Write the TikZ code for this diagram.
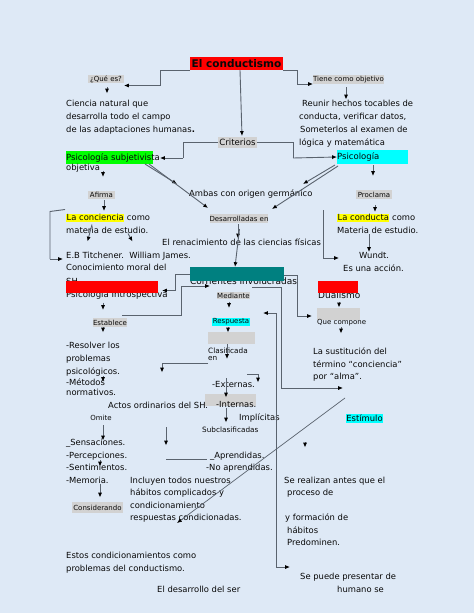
\documentclass[tikz,border=0pt]{standalone}
\usepackage{fontspec}
\setmainfont{DejaVu Sans}
\usetikzlibrary{arrows.meta}
\definecolor{bg}{RGB}{222,233,246}
\definecolor{boxgray}{RGB}{210,210,210}
\definecolor{linec}{RGB}{90,99,110}
\definecolor{txtc}{RGB}{8,8,8}
\definecolor{tealc}{RGB}{0,128,128}
\definecolor{cyanc}{RGB}{0,255,255}
\definecolor{greenc}{RGB}{0,255,0}
\definecolor{redc}{RGB}{255,0,0}
\definecolor{yellowc}{RGB}{255,255,0}
\newcommand\hlt[2]{{\setlength\fboxsep{0.5pt}\colorbox{#1}{\rule[-1.2pt]{0pt}{6.9pt}#2}}}
\tikzset{
  txt/.style={anchor=mid west, inner sep=0pt, text=txtc, font=\fontsize{8.4}{10}\selectfont},
  bigt/.style={anchor=base west, inner sep=0pt, text=txtc, font=\fontsize{9}{10}\selectfont},
  smt/.style={inner sep=0pt, text=txtc, font=\fontsize{7}{8}\selectfont},
  rbox/.style={anchor=north west, inner sep=0pt, outer sep=0pt, draw=none},
  lbl/.style={smt, fill=boxgray},
  ln/.style={draw=linec, line width=0.9pt},
  ar/.style={ln, -{Latex[length=4.8pt,width=4pt,color=black]}},
  artwo/.style={ln, {Latex[length=4.8pt,width=4pt,color=black]}-{Latex[length=4.8pt,width=4pt,color=black]}},
}
\begin{document}
\begin{tikzpicture}[x=1pt,y=-1pt]
\fill[bg] (0,0) rectangle (474,613);
\useasboundingbox (0,0) rectangle (474,613);

% ---------- boxes and labels ----------
\node[rbox, fill=redc, minimum width=93pt, minimum height=13pt, text=txtc,
      font=\bfseries\fontsize{10.5}{12}\selectfont] (title) at (190,57) {El conductismo};
\node[lbl, minimum width=36pt, minimum height=8pt] (que) at (106,79) {¿Qué es?};
\node[lbl, minimum width=71pt, minimum height=9pt] (tiene) at (348.5,79.5) {Tiene como objetivo};
\node[lbl, minimum width=39pt, minimum height=11pt, font=\fontsize{8.6}{10}\selectfont] (crit) at (237.5,142.5) {Criterios};
\node[rbox, fill=greenc, minimum width=87pt, minimum height=13pt] (gbox) at (66,151) {};
\node[rbox, fill=cyanc, minimum width=71pt, minimum height=14pt] (cbox) at (337,150) {};
\node[lbl, minimum width=27pt, minimum height=8pt] (afirma) at (101.5,194.5) {Afirma};
\node[lbl, minimum width=36pt, minimum height=9pt] (procl) at (374,194.5) {Proclama};
\node[lbl, minimum width=56pt, minimum height=9pt] (desen) at (239,218.5) {Desarrolladas en};
\node[lbl, minimum width=33pt, minimum height=7pt] (mediante) at (233.5,295.5) {Mediante};
\node[lbl, minimum width=34pt, minimum height=9pt] (estab) at (110,322.5) {Establece};
\node[smt, fill=cyanc, minimum width=38pt, minimum height=8pt] (resp) at (231,322) {Respuesta};
\node[lbl, minimum width=51pt, minimum height=11pt] (consid) at (97.5,507.5) {Considerando};
\node[rbox, fill=boxgray, minimum width=43pt, minimum height=12pt] (qcbox) at (317,308) {};
\node[rbox, fill=boxgray, minimum width=47pt, minimum height=12pt] (rbx) at (208,332) {};
\node[rbox, fill=boxgray, minimum width=51pt, minimum height=12pt] (ibx) at (205,394) {};
\node[smt, fill=cyanc, minimum width=37pt, minimum height=9pt, font=\fontsize{8.4}{10}\selectfont] (estim) at (364.5,418.5) {Estímulo};

% ---------- texts ----------
\node[txt] (q1) at (66,104) {Ciencia natural que};
\node[txt] (q2) at (66,117) {desarrolla todo el campo};
\node[txt] (q3) at (66,130) {de las adaptaciones humanas\textbf{.}};
\node[txt] (o1) at (302,104) {Reunir hechos tocables de};
\node[txt] (o2) at (299,117) {conducta, verificar datos,};
\node[txt] (o3) at (300,130) {Someterlos al examen de};
\node[txt] (o4) at (299,143) {lógica y matemática};
\node[txt, font=\fontsize{8.5}{10}\selectfont] (psub) at (66,157.5) {Psicología subjetivista};
\node[txt] (pobj) at (66,168) {objetiva};
\node[txt, font=\fontsize{8.5}{10}\selectfont] (psic) at (337,157) {Psicología};
\node[txt] (ambas) at (189,194) {Ambas con origen germánico};
\node[txt] (lconc) at (66,218) {\hlt{yellowc}{La conciencia} como};
\node[txt] (mat1) at (66,230.5) {materia de estudio.};
\node[txt] (lcond) at (337,218) {\hlt{yellowc}{La conducta} como};
\node[txt] (mat2) at (337,230.5) {Materia de estudio.};
\node[txt] (renac) at (162,243) {El renacimiento de las ciencias físicas};
\node[txt] (eb) at (66,255.5) {E.B Titchener.\ \ William James.};
\node[txt] (conoc) at (66,268) {Conocimiento moral del};
\node[txt] (sh) at (66,281.5) {SH.};
\node[txt] (wundt) at (359,256) {Wundt.};
\node[txt] (accion) at (343,268.5) {Es una acción.};
\node[bigt, font=\fontsize{8.6}{10}\selectfont] (pintro) at (66,297.5) {Psicología Introspectiva};
\node[bigt] (corr) at (190,284.5) {Corrientes Involucradas};
\node[bigt] (dual) at (318,298.5) {Dualismo};
\node[smt, anchor=west] (qcomp) at (317,322.5) {Que compone};
\node[txt] (r1) at (66,346) {-Resolver los};
\node[txt] (r2) at (66,359) {problemas};
\node[txt] (r3) at (66,372) {psicológicos.};
\node[txt] (r4) at (66,383) {-Métodos};
\node[txt] (r5) at (66,393) {normativos.};
\node[smt, anchor=west, font=\fontsize{7.3}{8}\selectfont] (clas1) at (208,351) {Clasificada};
\node[smt, anchor=west, font=\fontsize{7.3}{8}\selectfont] (clas2) at (208,359) {en};
\node[txt] (s1) at (313,352) {La sustitución del};
\node[txt] (s2) at (313,364.5) {término “conciencia”};
\node[txt] (s3) at (313,377) {por “alma”.};
\node[txt] (ext) at (212,385) {-Externas.};
\node[txt] (actos) at (108,406) {Actos ordinarios del SH.};
\node[txt] (int) at (216,405) {-Internas.};
\node[txt] (impl) at (239,418) {Implícitas};
\node[smt, anchor=west, font=\fontsize{7.3}{8}\selectfont] (subc) at (202,430) {Subclasificadas};
\node[smt] (omite) at (101,418) {Omite};
\node[txt] (se1) at (66,443) {\_Sensaciones.};
\node[txt] (se2) at (66,455.5) {-Percepciones.};
\node[txt] (se3) at (66,468) {-Sentimientos.};
\node[txt] (se4) at (66,480.5) {-Memoria.};
\node[txt] (apr) at (210,455.5) {\_Aprendidas.};
\node[txt] (noapr) at (206,468) {-No aprendidas.};
\node[txt] (in1) at (130,480.5) {Incluyen todos nuestros};
\node[txt] (in2) at (130,493) {hábitos complicados y};
\node[txt] (in3) at (130,505.5) {condicionamiento};
\node[txt] (in4) at (130,518) {respuestas condicionadas.};
\node[txt] (re1) at (284,480.5) {Se realizan antes que el};
\node[txt] (re2) at (287,493) {proceso de};
\node[txt] (fo1) at (285,518) {y formación de};
\node[txt] (fo2) at (287,530.5) {hábitos};
\node[txt] (fo3) at (287,543) {Predominen.};
\node[txt] (es1) at (66,556) {Estos condicionamientos como};
\node[txt] (es2) at (66,569) {problemas del conductismo.};
\node[txt] (pr1) at (300,577) {Se puede presentar de};
\node[txt] (pr2) at (337,589.5) {humano se};
\node[txt] (desa) at (157,589.5) {El desarrollo del ser};

% boxes drawn over their texts
\node[rbox, fill=redc, minimum width=92pt, minimum height=12.5pt] (rintro) at (66,280.5) {};
\node[rbox, fill=tealc, minimum width=94pt, minimum height=14pt] (tbox) at (190,267) {};
\node[rbox, fill=redc, minimum width=40pt, minimum height=12pt] (rdual) at (318,281) {};

% ---------- free ends ----------
\coordinate (queR) at (124,85.5);
\coordinate (tieL) at (313,84);
\coordinate (critT) at (242,136);
\coordinate (psubR) at (160,158);
\coordinate (ambL) at (177,184);
\coordinate (ambR) at (303,184);
\coordinate (desL) at (208,208);
\coordinate (desR) at (272,209);
\coordinate (ebL) at (63,259);
\coordinate (wuL) at (339,258);
\coordinate (piR) at (162,290.5);
\coordinate (coB) at (210,286);
\coordinate (qcL) at (312,316);
\coordinate (reR) at (263,313);
\coordinate (suL) at (343,388);
\coordinate (prL) at (290,567);
\coordinate (inA) at (177,523);

% ---------- connectors ----------
\draw[ln] (title.south west) -- (160,70) -- (160,85.5);
\draw[ar] (160,85.5) -- (queR);
\draw[ln] (title.south east) -- (297,70) -- (297,84);
\draw[ar] (297,84) -- (tieL);
\draw[ar] (240,70) -- (critT);
\draw[ar] (107,87) -- (107,93.5);
\draw[ar] (346,87) -- (346,99.5);
\draw[ln] (crit.west) -- (183,142.5) -- (183,158);
\draw[ar] (183,158) -- (psubR);
\draw[ln] (crit.east) -- (293,142.5) -- (293,158);
\draw[ar] (293,158) -- (cbox.west);
\draw[ar] (103,170.5) -- (103,177);
\draw[ar] (373,165) -- (373,176);
\draw[ar] (145,164) -- (ambL);
\draw[ar] (149,164) -- (desL);
\draw[ar] (335,165) -- (ambR);
\draw[ar] (338,166) -- (desR);
\draw[ar] (104,200) -- (104,211);
\draw[ar] (375,205) -- (375,212);
\draw[ln] (65,209.5) -- (50,211.5) -- (50,259);
\draw[ar] (50,259) -- (ebL);
\draw[ar] (92,224.5) -- (87.5,241.5);
\draw[ar] (128,233.5) -- (132.5,241.5);
\draw[ar] (238,224) -- (238,238.5);
\draw[ar] (239.5,229) -- (tbox.north -| 235,0);
\draw[ln] (323,210) -- (323,258);
\draw[ar] (323,258) -- (wuL);
\draw[ar] (369,234) -- (369,252);
\draw[ln] (tbox.west |- 0,274) -- (175,274) -- (175,290.5);
\draw[ar] (175,290.5) -- (piR);
\draw[ln] (122,315) -- (181,315) -- (181,286);
\draw[ar] (181,286) -- (coB);
\draw[ln] (tbox.east |- 0,275) -- (297,275) -- (297,316);
\draw[ar] (297,316) -- (qcL);
\draw[ln] (252,287) -- (281,287) -- (281,388);
\draw[ar] (281,388) -- (suL);
\draw[artwo] (reR) -- (276,313) -- (276,567) -- (prL);
\draw[ar] (103,302.5) -- (103,310);
\draw[ar] (103,327) -- (103,332.5);
\draw[ar] (103,376) -- (103,382);
\draw[ar] (229,301.5) -- (229,308);
\draw[ar] (228,326.5) -- (228,332.5);
\draw[ar] (227,344) -- (227,359);
\draw[ln] (208,363) -- (162,363);
\draw[ar] (162,363) -- (162,372.5);
\draw[ln] (247,374) -- (258,374);
\draw[ar] (258,374) -- (258,382.5);
\draw[ar] (226,378) -- (226,397.5);
\draw[ar] (226,408) -- (226,422.5);
\draw[ar] (339,301.5) -- (339,307.5);
\draw[ar] (341,327) -- (341,333.5);
\draw[ar, line width=0.7pt] (345,398) -- (inA);
\draw[ar] (103,425) -- (103,440.5);
\draw[ar] (100,460) -- (100,466.5);
\draw[ar] (100,484) -- (100,497.5);
\draw[ar] (166,427) -- (166,445.5);
\draw[ln] (166,459) -- (207,459);
\draw[ar] (305,442) -- (305,447.5);
\end{tikzpicture}
\end{document}
